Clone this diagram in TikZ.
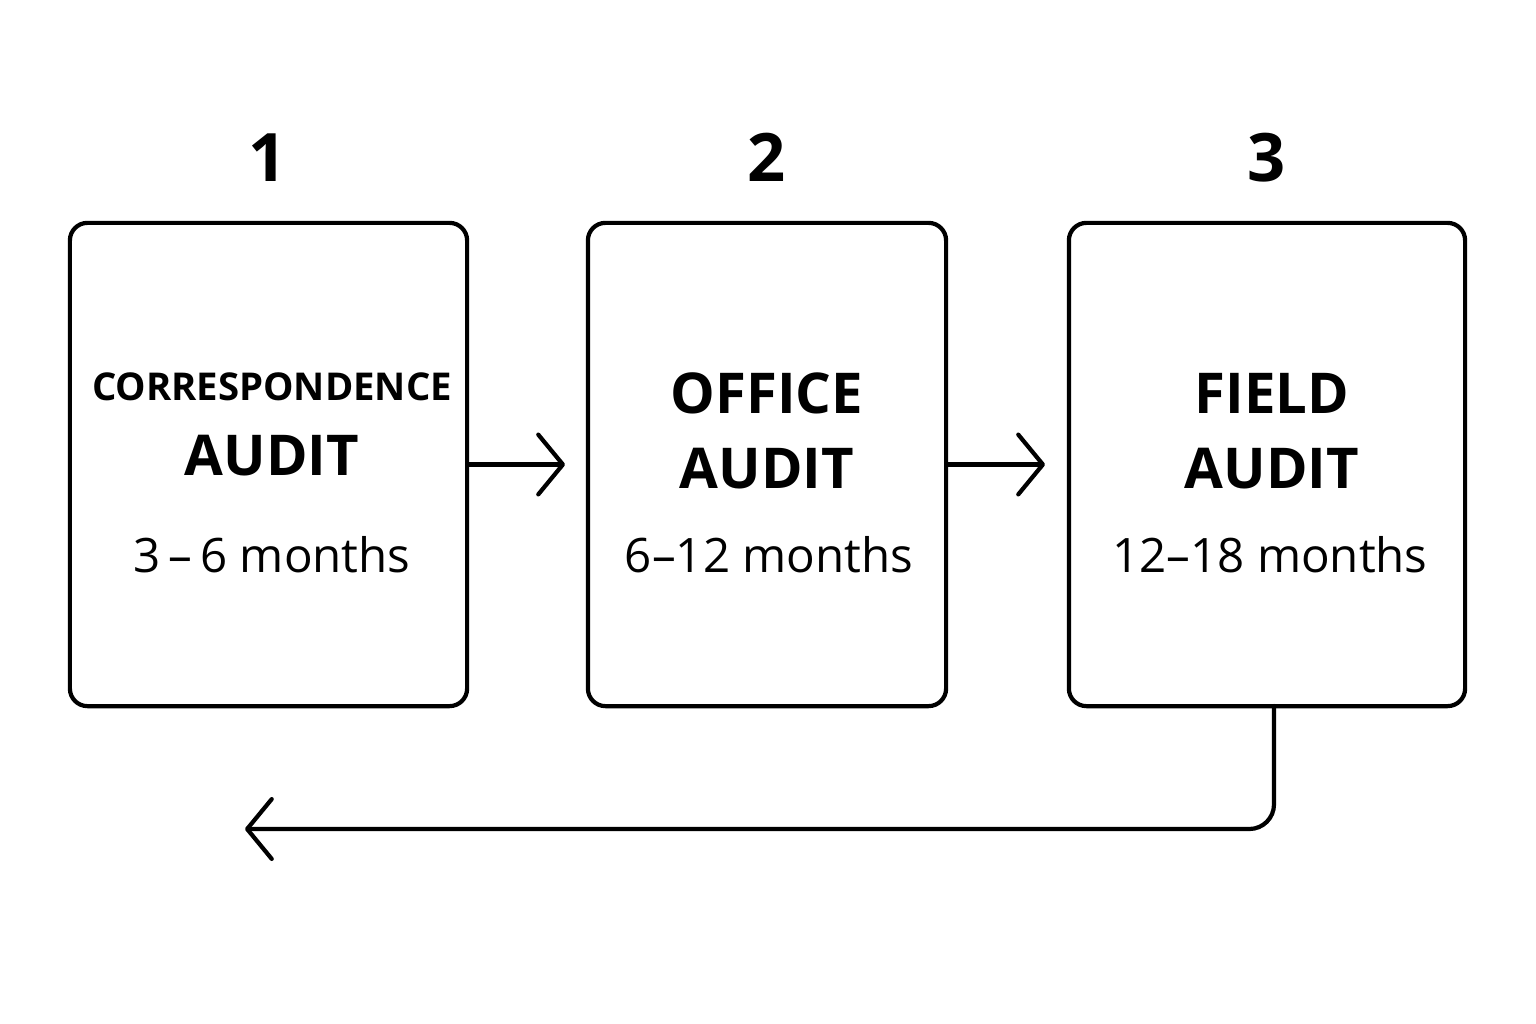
\documentclass[tikz,border=0pt]{standalone}
\usepackage{fontspec}
\setmainfont{Open Sans}
\usetikzlibrary{arrows.meta, positioning}

\tikzset{
    auditbox/.style={draw, line width=1.2pt, rounded corners=5pt, minimum height=4.83cm, inner sep=0pt},
    flowline/.style={line width=1.2pt, line cap=round, -{Straight Barb[length=7pt, width=17pt, line width=1.2pt, round]}},
    stepnum/.style={anchor=base, font=\fontsize{19}{22}\selectfont\bfseries},
    kindsmall/.style={anchor=base, font=\fontsize{10.9}{13}\selectfont\bfseries},
    kindbig/.style={anchor=base, font=\fontsize{16}{19}\selectfont\bfseries},
    span/.style={anchor=base, font=\fontsize{13.5}{16}\selectfont}
}

\begin{document}
\begin{tikzpicture}[x=0.01cm, y=-0.01cm]
    \useasboundingbox (0,0) rectangle (1536,1024);

    % Define the boxes
    \node[auditbox, minimum width=3.97cm] (corr) at (268.5,464.5) {};
    \node[auditbox, minimum width=3.58cm] (office) at (767,464.5) {};
    \node[auditbox, minimum width=3.96cm] (field) at (1267,464.5) {};

    % Step numbers above the boxes
    \node[stepnum] (num1) at (268,181) {1};
    \node[stepnum] (num2) at (767,181) {2};
    \node[stepnum] (num3) at (1267,181) {3};

    % Texts inside the boxes
    \node[kindsmall] (corrtop) at (272,400) {CORRESPONDENCE};
    \node[kindbig] (corrbot) at (272,475) {AUDIT};
    \node[span] (corrtime) at (272,572) {3\,–\,6 months};

    \node[kindbig] (officetop) at (767,413) {OFFICE};
    \node[kindbig] (officebot) at (767,488) {AUDIT};
    \node[span] (officetime) at (769,572) {6–12 months};

    \node[kindbig] (fieldtop) at (1272,413) {FIELD};
    \node[kindbig] (fieldbot) at (1272,488) {AUDIT};
    \node[span] (fieldtime) at (1270,572) {12–18 months};

    % Draw the arrows between the boxes
    \coordinate (tip1) at (565,464.5);
    \coordinate (tip2) at (1045,464.5);
    \draw[flowline] (corr.east) -- (tip1);
    \draw[flowline] (office.east) -- (tip2);

    % Return arrow back to the start
    \coordinate (down) at (1274,706);
    \coordinate (back) at (245,829);
    \draw[flowline, rounded corners=7pt] (down) |- (back);

\end{tikzpicture}
\end{document}
